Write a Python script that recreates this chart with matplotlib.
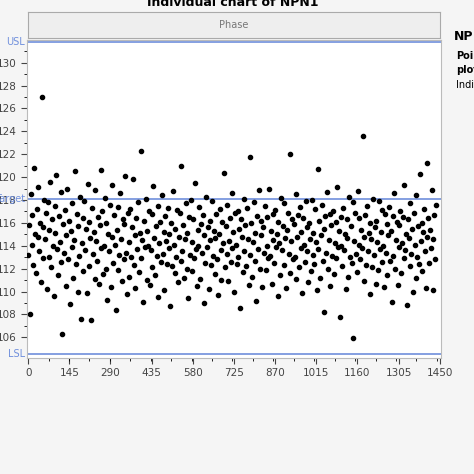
import matplotlib
matplotlib.use("Agg")
import matplotlib.pyplot as plt

npn1 = [
    113.2, 115.8, 108.0, 118.5, 114.1, 116.7, 112.3, 120.8, 115.0, 111.6, 117.2, 114.8, 119.1, 113.5, 116.0, 110.8, 127.0, 115.6, 112.9, 118.0,
    114.6, 116.9, 110.2, 117.8, 113.0, 115.4, 119.6, 112.1, 116.3, 114.0, 109.6, 117.5, 115.1, 120.2, 113.7, 111.4, 116.6, 114.3, 118.7, 112.6,
    106.3, 115.9, 113.4, 117.1, 110.5, 114.9, 119.0, 112.8, 116.2, 108.9, 115.3, 113.9, 117.7, 111.2, 114.5, 120.5, 112.4, 116.8, 110.0, 115.7,
    113.1, 118.3, 107.6, 114.2, 116.4, 111.8, 117.9, 113.6, 115.5, 109.9, 119.4, 112.2, 116.1, 114.7, 107.5, 117.3, 113.3, 115.2, 111.1, 118.9,
    114.4, 112.7, 116.5, 110.7, 115.8, 120.6, 113.8, 117.0, 111.5, 114.0, 118.2, 112.0, 116.0, 109.3, 115.0, 113.5, 117.6, 110.4, 114.8, 119.3,
    112.5, 116.7, 114.1, 108.4, 115.4, 117.4, 111.9, 113.2, 118.6, 114.6, 110.9, 116.3, 112.8, 115.9, 120.1, 113.4, 109.8, 116.9, 114.3, 111.3,
    117.2, 113.0, 115.6, 119.8, 112.3, 114.9, 110.3, 116.4, 113.7, 117.8, 111.7, 115.1, 122.3, 112.9, 114.5, 109.1, 116.2, 113.9, 118.1, 111.0,
    115.3, 114.0, 117.0, 110.6, 113.6, 116.8, 112.1, 119.2, 114.7, 111.4, 115.7, 113.1, 117.5, 109.5, 114.2, 116.1, 112.6, 118.4, 113.3, 115.2,
    110.1, 116.6, 114.4, 112.4, 117.3, 113.8, 115.0, 108.7, 116.0, 112.2, 118.8, 114.1, 111.6, 115.5, 113.0, 117.1, 110.8, 114.8, 116.9, 112.7,
    121.0, 113.5, 115.8, 111.2, 114.6, 117.7, 112.0, 115.1, 109.4, 116.5, 113.2, 118.0, 111.8, 114.3, 116.3, 112.9, 119.5, 113.7, 110.5, 115.4,
    114.0, 117.4, 111.1, 115.9, 113.4, 116.7, 109.0, 114.9, 112.5, 118.3, 113.9, 115.6, 110.2, 116.2, 114.5, 112.3, 117.9, 113.1, 115.3, 111.5,
    114.7, 116.8, 112.8, 109.7, 115.0, 117.2, 113.6, 111.0, 116.1, 114.2, 120.4, 112.1, 115.7, 113.3, 117.6, 110.9, 114.4, 116.4, 112.6, 118.6,
    113.8, 115.2, 110.0, 116.9, 114.1, 112.4, 117.0, 113.0, 115.5, 108.6, 116.3, 114.8, 111.7, 118.1, 113.5, 115.8, 112.2, 117.3, 114.6, 110.6,
    121.8, 113.2, 116.0, 111.3, 114.3, 117.8, 112.7, 115.1, 109.2, 116.6, 113.7, 118.9, 112.0, 114.9, 116.2, 110.4, 115.6, 113.4, 117.5, 111.9,
    114.0, 116.5, 112.9, 119.0, 113.1, 115.3, 110.7, 116.8, 114.5, 112.5, 117.1, 113.9, 115.0, 109.6, 116.1, 114.2, 111.4, 118.2, 113.6, 115.7,
    112.3, 117.7, 114.7, 110.3, 115.4, 116.9, 113.3, 111.6, 122.0, 114.4, 116.3, 112.8, 115.9, 113.0, 118.5, 111.1, 114.8, 116.7, 112.1, 117.4,
    113.8, 115.2, 109.9, 116.4, 114.1, 112.6, 117.9, 113.5, 115.6, 110.8, 116.0, 114.6, 111.8, 118.0, 113.2, 115.1, 112.4, 117.2, 114.3, 110.1,
    120.7, 113.7, 116.2, 111.2, 114.9, 117.6, 112.7, 115.5, 108.2, 116.6, 113.4, 118.7, 112.0, 114.5, 116.8, 110.5, 115.8, 113.1, 117.0, 111.5,
    114.2, 116.1, 112.9, 119.1, 113.9, 115.3, 107.8, 116.5, 114.0, 112.2, 117.3, 113.6, 115.0, 110.2, 116.3, 114.7, 111.3, 118.3, 113.0, 115.7,
    112.5, 117.8, 105.9, 114.4, 116.9, 113.3, 111.7, 118.8, 114.1, 116.4, 112.8, 115.4, 113.8, 123.6, 110.9, 114.8, 116.7, 112.3, 117.5, 113.5,
    115.1, 109.8, 116.0, 114.6, 112.1, 118.1, 113.2, 115.6, 110.7, 116.2, 114.3, 111.9, 117.9, 113.7, 115.2, 112.6, 117.1, 114.0, 110.4, 116.8,
    113.4, 115.9, 111.4, 114.9, 117.4, 112.7, 115.3, 109.1, 116.6, 113.1, 118.6, 112.0, 114.5, 116.1, 110.6, 115.8, 113.9, 117.0, 111.6, 114.2,
    116.5, 112.9, 119.3, 113.6, 115.0, 108.8, 116.3, 114.7, 112.2, 117.7, 113.3, 115.5, 110.0, 116.9, 114.1, 111.2, 118.4, 113.0, 115.7, 112.4,
    120.3, 114.4, 116.0, 111.8, 115.2, 117.2, 113.5, 110.3, 121.2, 114.8, 116.4, 112.5, 115.4, 113.8, 118.9, 110.1, 114.6, 116.7, 112.8, 117.6,
]
step = 3
idx = [i * step for i in range(len(npn1))]

usl, target, lsl = 131.8, 118.1, 104.5
xticks = [0, 145, 290, 435, 580, 725, 870, 1015, 1160, 1305, 1450]
yticks = [106, 108, 110, 112, 114, 116, 118, 120, 122, 124, 126, 128, 130]

fig = plt.figure(figsize=(4.74, 4.74), dpi=100, facecolor="#f5f5f5")
ax = fig.add_axes([0.057, 0.245, 0.873, 0.671])
ax.scatter(idx, npn1, s=9, color="black", zorder=3)

blue = "#6f8fdc"
for v in (usl, target, lsl):
    ax.axhline(v, color=blue, lw=1.2, zorder=2)

ax.set_xlim(-4, 1454)
ax.set_ylim(104.2, 132.0)
ax.set_xticks(xticks)
ax.set_yticks(yticks)
ax.set_xticks(range(0, 1451, 72), minor=True)
ax.set_yticks([v + 1 for v in yticks], minor=True)
ax.tick_params(labelsize=7.5, colors="#444444", length=4)
ax.tick_params(which="minor", length=2)
for s in ax.spines.values():
    s.set_color("#bbbbbb")

# spec limit labels on left
ax.text(-0.005, usl, "USL", transform=ax.get_yaxis_transform(), ha="right", va="center", fontsize=7, color=blue)
ax.text(-0.005, target, "Target", transform=ax.get_yaxis_transform(), ha="right", va="center", fontsize=7, color=blue)
ax.text(-0.005, lsl, "LSL", transform=ax.get_yaxis_transform(), ha="right", va="center", fontsize=7, color=blue)

# phase header box
hdr = fig.add_axes([0.059, 0.92, 0.869, 0.055])
hdr.set_facecolor("#eeeeee")
hdr.set_xticks([])
hdr.set_yticks([])
for s in hdr.spines.values():
    s.set_color("#aaaaaa")
hdr.text(0.5, 0.5, "Phase", ha="center", va="center", fontsize=7, color="#777777", transform=hdr.transAxes)

fig.text(0.49, 0.995, "Individual chart of NPN1", ha="center", va="center", fontsize=9, weight="bold")
fig.text(0.958, 0.915, "NP", fontsize=9, weight="bold")
fig.text(0.962, 0.875, "Poin", fontsize=7, weight="bold")
fig.text(0.962, 0.845, "plot", fontsize=7, weight="bold")
fig.text(0.962, 0.815, "Indi", fontsize=7)

fig.savefig("out.png", dpi=100, facecolor=fig.get_facecolor())
